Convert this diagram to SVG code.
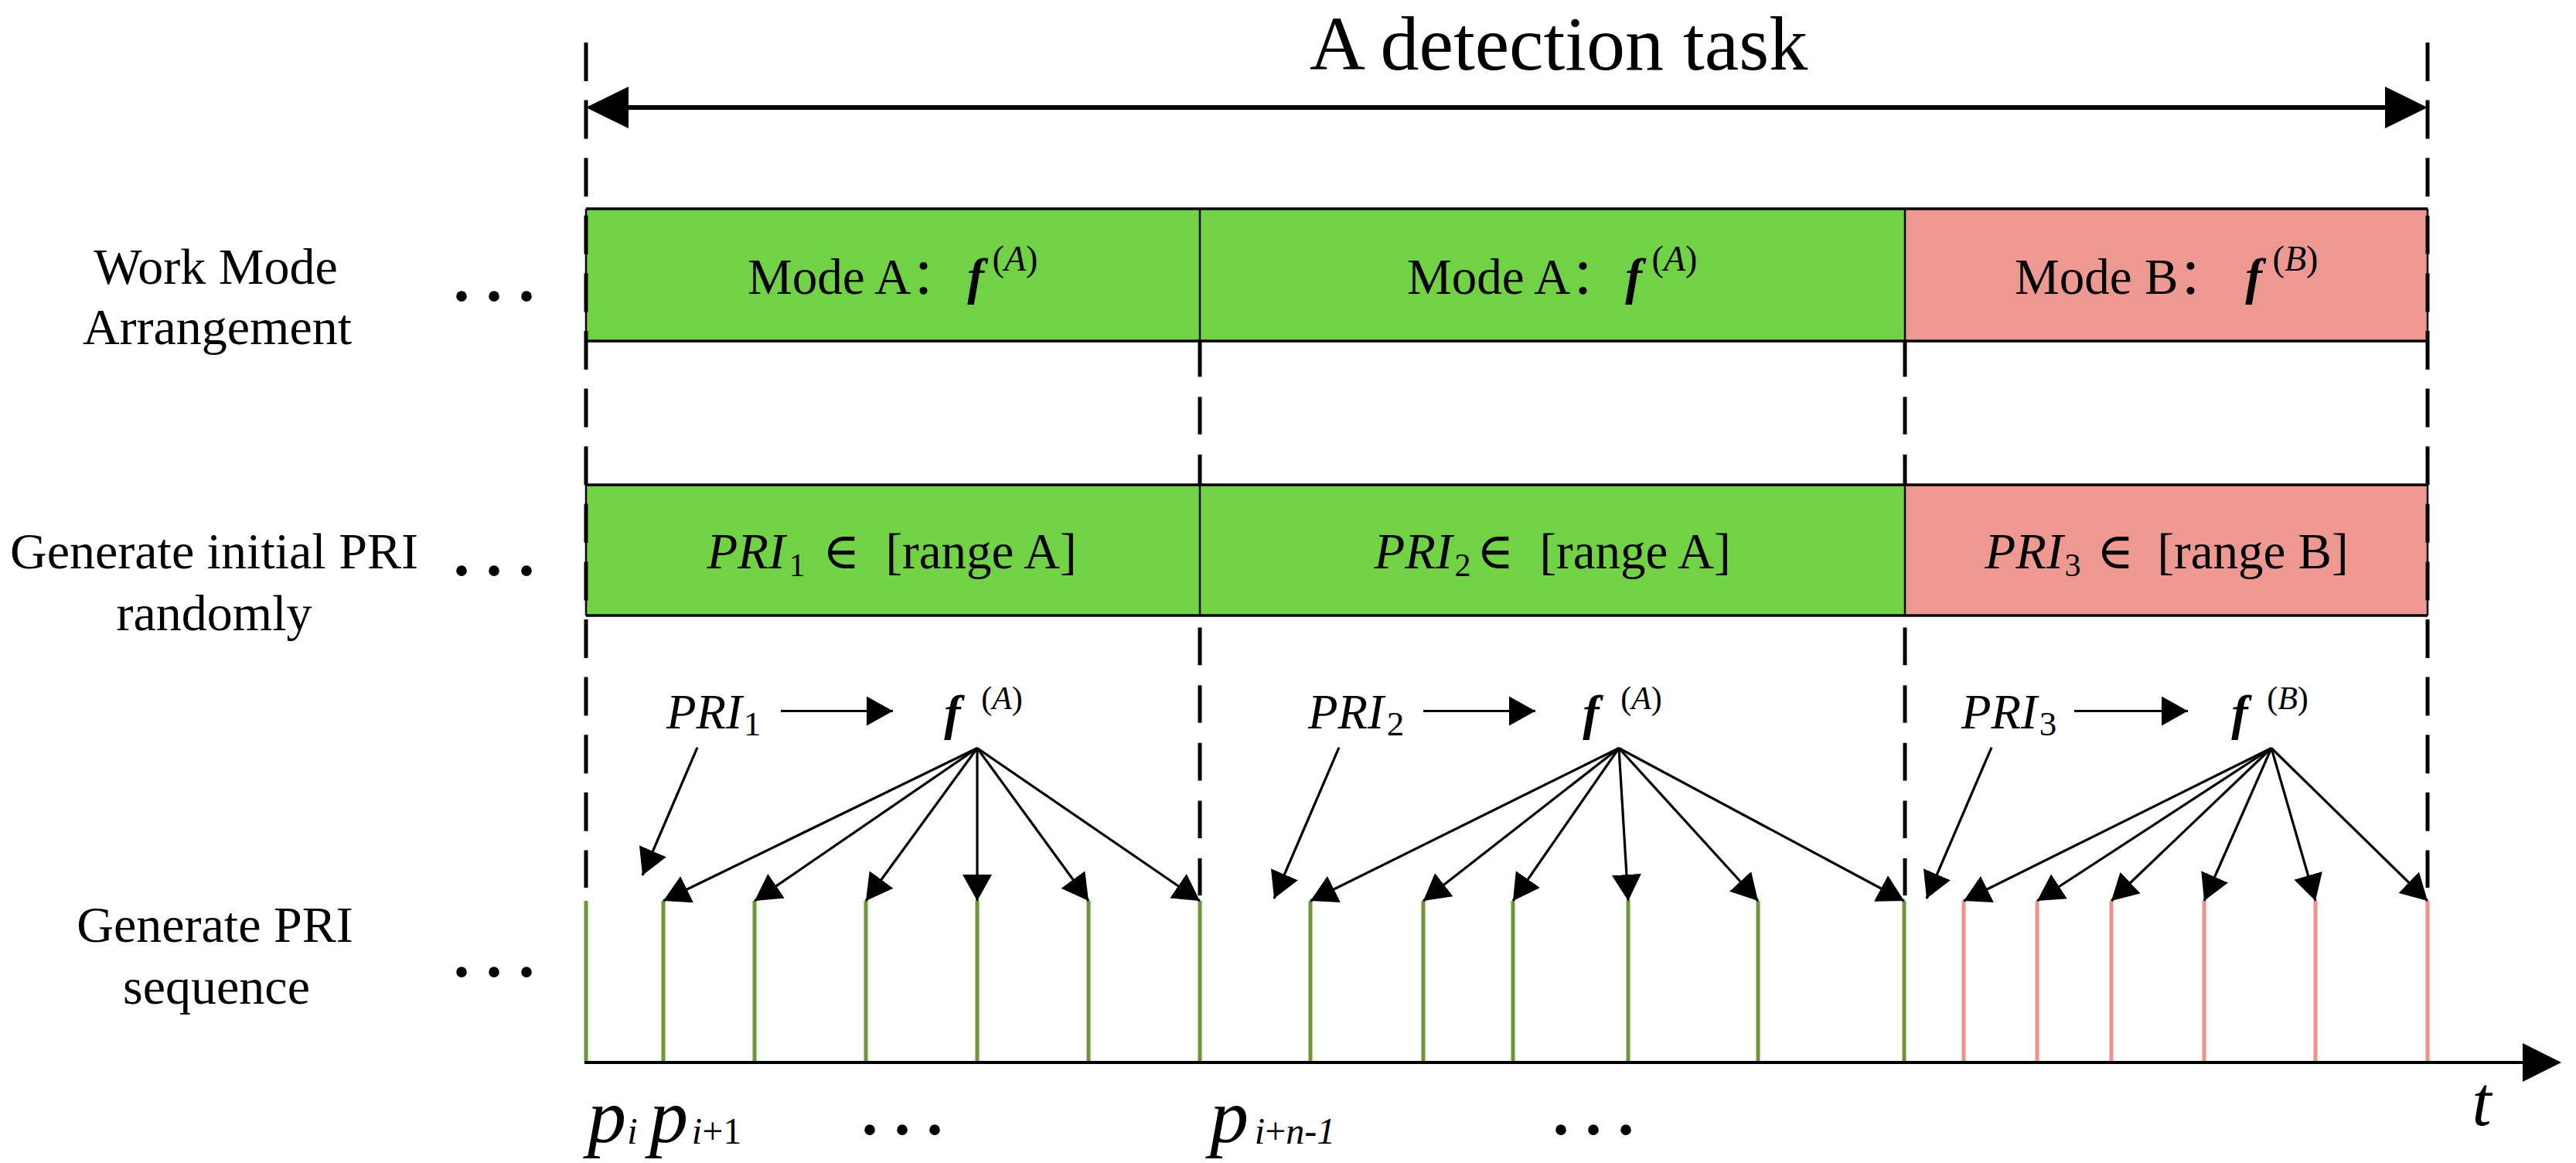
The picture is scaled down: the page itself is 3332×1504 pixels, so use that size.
<svg xmlns="http://www.w3.org/2000/svg" width="3332" height="1504" viewBox="0 0 3332 1504">
<style>
text{font-family:"Liberation Serif","DejaVu Serif","Noto Sans CJK SC",serif;fill:#000}
.lbl{font-size:66px;text-anchor:middle}
.box{font-size:65px}
.it{font-style:italic}
.fb{font-style:italic;font-weight:bold}
.mid{text-anchor:middle}
.dash{stroke:#000;stroke-width:5;fill:none;stroke-dasharray:50 24.6}
.mdash{stroke:#000;stroke-width:5;fill:none;stroke-dasharray:48.6 26}
.hl{stroke:#000;stroke-width:3.5}
.vl{stroke:#000;stroke-width:2.5}
.green{fill:#70D244}
.pink{fill:#ED9992}
.tg{stroke:#6B9737;stroke-width:5}
.tp{stroke:#EF928C;stroke-width:5}
.arr{stroke:#000;stroke-width:3.2;fill:none;marker-end:url(#ah)}
.dots{font-size:84px;text-anchor:middle;font-weight:bold}
</style>
<defs>
<marker id="ah" markerUnits="userSpaceOnUse" viewBox="0 0 34 38" markerWidth="34" markerHeight="38" refX="34" refY="19" orient="auto"><path d="M0,0 L34,19 L0,38 z" fill="#000"/></marker>
<marker id="big" markerUnits="userSpaceOnUse" viewBox="0 0 55 54" markerWidth="55" markerHeight="54" refX="49" refY="27" orient="auto-start-reverse"><path d="M0,0 L55,27 L0,54 z" fill="#000"/></marker>
<marker id="axh" markerUnits="userSpaceOnUse" viewBox="0 0 50 50" markerWidth="50" markerHeight="50" refX="44" refY="25" orient="auto"><path d="M0,0 L50,25 L0,50 z" fill="#000"/></marker>
</defs>

<g id="middle-dashes">
<path class="mdash" d="M1552,438.6 V1158"/>
<path class="mdash" d="M2464,438.6 V1158"/>
</g>

<g id="row1">
<rect class="green" x="758" y="270" width="794" height="171"/>
<rect class="green" x="1552" y="270" width="912" height="171"/>
<rect class="pink" x="2464" y="270" width="676" height="171"/>
<line class="hl" x1="758" y1="270" x2="3140" y2="270"/>
<line class="hl" x1="758" y1="441" x2="3140" y2="441"/>
<line class="vl" x1="758" y1="270" x2="758" y2="441"/>
<line class="vl" x1="1552" y1="270" x2="1552" y2="441"/>
<line class="vl" x1="2464" y1="270" x2="2464" y2="441"/>
<line class="vl" x1="3140" y1="270" x2="3140" y2="441"/>
<text class="box" x="967" y="380">Mode A：</text>
<text class="box fb mid" x="1262" y="380" font-size="64">f</text>
<text class="mid" x="1313" y="350" font-size="46">(<tspan class="it">A</tspan>)</text>
<text class="box" x="1820" y="380">Mode A：</text>
<text class="box fb mid" x="2113" y="380" font-size="64">f</text>
<text class="mid" x="2166" y="350" font-size="46">(<tspan class="it">A</tspan>)</text>
<text class="box" x="2606" y="380">Mode B：</text>
<text class="box fb mid" x="2915" y="380" font-size="64">f</text>
<text class="mid" x="2969" y="350" font-size="46">(<tspan class="it">B</tspan>)</text>
</g>

<g id="row2">
<rect class="green" x="758" y="627" width="794" height="169"/>
<rect class="green" x="1552" y="627" width="912" height="169"/>
<rect class="pink" x="2464" y="627" width="676" height="169"/>
<line class="hl" x1="758" y1="627" x2="3140" y2="627"/>
<line class="hl" x1="758" y1="796" x2="3140" y2="796"/>
<line class="vl" x1="758" y1="627" x2="758" y2="796"/>
<line class="vl" x1="1552" y1="627" x2="1552" y2="796"/>
<line class="vl" x1="2464" y1="627" x2="2464" y2="796"/>
<line class="vl" x1="3140" y1="627" x2="3140" y2="796"/>
<text class="box it mid" x="965" y="735">PRI</text>
<text class="mid" x="1031" y="745" font-size="42">1</text>
<text class="box mid" x="1088" y="735">∈</text>
<text class="box mid" x="1269" y="735">[range A]</text>
<text class="box it mid" x="1828" y="735">PRI</text>
<text class="mid" x="1892" y="745" font-size="42">2</text>
<text class="box mid" x="1934" y="735">∈</text>
<text class="box mid" x="2115" y="735">[range A]</text>
<text class="box it mid" x="2618" y="735">PRI</text>
<text class="mid" x="2681" y="745" font-size="42">3</text>
<text class="box mid" x="2736" y="735">∈</text>
<text class="box mid" x="2914" y="735">[range B]</text>
</g>

<g id="task-bounds">
<path class="dash" d="M758,55 V1148"/>
<path class="dash" d="M3140,55 V1148"/>
<line x1="764" y1="139" x2="3134" y2="139" stroke="#000" stroke-width="6" marker-start="url(#big)" marker-end="url(#big)"/>
<text x="2016" y="90" font-size="100" text-anchor="middle">A detection task</text>
</g>

<g id="row-labels">
<text class="lbl" x="279" y="367">Work Mode</text>
<text class="lbl" x="281" y="445">Arrangement</text>
<text class="lbl" x="277" y="735">Generate initial PRI</text>
<text class="lbl" x="277" y="815">randomly</text>
<text class="lbl" x="278" y="1218">Generate PRI</text>
<text class="lbl" x="280" y="1298">sequence</text>
<text class="dots" x="639" y="389">. . .</text>
<text class="dots" x="639" y="744">. . .</text>
<text class="dots" x="639" y="1263">. . .</text>
</g>

<g id="pri-sequence">
<line class="tg" x1="758" y1="1165" x2="758" y2="1374"/>
<line class="tg" x1="858" y1="1165" x2="858" y2="1374"/>
<line class="tg" x1="976" y1="1165" x2="976" y2="1374"/>
<line class="tg" x1="1120" y1="1165" x2="1120" y2="1374"/>
<line class="tg" x1="1264" y1="1165" x2="1264" y2="1374"/>
<line class="tg" x1="1408" y1="1165" x2="1408" y2="1374"/>
<line class="tg" x1="1552" y1="1165" x2="1552" y2="1374"/>
<line class="tg" x1="1695" y1="1165" x2="1695" y2="1374"/>
<line class="tg" x1="1841" y1="1165" x2="1841" y2="1374"/>
<line class="tg" x1="1957" y1="1165" x2="1957" y2="1374"/>
<line class="tg" x1="2106" y1="1165" x2="2106" y2="1374"/>
<line class="tg" x1="2274" y1="1165" x2="2274" y2="1374"/>
<line class="tg" x1="2463" y1="1165" x2="2463" y2="1374"/>
<line class="tp" x1="2540" y1="1165" x2="2540" y2="1374"/>
<line class="tp" x1="2635" y1="1165" x2="2635" y2="1374"/>
<line class="tp" x1="2731" y1="1165" x2="2731" y2="1374"/>
<line class="tp" x1="2851" y1="1165" x2="2851" y2="1374"/>
<line class="tp" x1="2995" y1="1165" x2="2995" y2="1374"/>
<line class="tp" x1="3140" y1="1165" x2="3140" y2="1374"/>
<line x1="756" y1="1374" x2="3307" y2="1374" stroke="#000" stroke-width="4" marker-end="url(#axh)"/>
<text class="it mid" x="3210" y="1455" font-size="90">t</text>
<text class="it mid" x="785" y="1477" font-size="100">p</text>
<text class="it mid" x="818" y="1479" font-size="48">i</text>
<text class="it mid" x="865" y="1477" font-size="100">p</text>
<text class="mid" x="927" y="1479" font-size="48"><tspan class="it">i</tspan>+1</text>
<text class="dots" x="1167" y="1467" font-size="82">. . .</text>
<text class="it mid" x="1590" y="1477" font-size="100">p</text>
<text class="mid" x="1675" y="1479" font-size="48"><tspan class="it">i</tspan>+<tspan class="it">n-1</tspan></text>
<text class="dots" x="2061" y="1467" font-size="82">. . .</text>
</g>

<g id="labels-lower">
<text class="it mid" x="911" y="942" font-size="63">PRI</text>
<text class="mid" x="973" y="951" font-size="45">1</text>
<text class="fb mid" x="1232" y="943" font-size="64">f</text>
<text class="mid" x="1296" y="917" font-size="42">(<tspan class="it">A</tspan>)</text>
<text class="it mid" x="1741" y="942" font-size="63">PRI</text>
<text class="mid" x="1805" y="951" font-size="45">2</text>
<text class="fb mid" x="2058" y="943" font-size="64">f</text>
<text class="mid" x="2123" y="917" font-size="42">(<tspan class="it">A</tspan>)</text>
<text class="it mid" x="2586" y="942" font-size="63">PRI</text>
<text class="mid" x="2649" y="951" font-size="45">3</text>
<text class="fb mid" x="2897" y="943" font-size="64">f</text>
<text class="mid" x="2959" y="917" font-size="42">(<tspan class="it">B</tspan>)</text>
</g>

<g id="connectors">
<line class="arr" x1="1010" y1="919.5" x2="1155" y2="919.5"/>
<line class="arr" x1="1841" y1="919.5" x2="1986" y2="919.5"/>
<line class="arr" x1="2683" y1="919.5" x2="2830" y2="919.5"/>
<line class="arr" x1="902" y1="966.6" x2="831" y2="1132"/>
<line class="arr" x1="1732" y1="966.6" x2="1648" y2="1162"/>
<line class="arr" x1="2576" y1="966.6" x2="2492" y2="1162"/>
<line class="arr" x1="1264" y1="967.5" x2="858" y2="1165"/>
<line class="arr" x1="1264" y1="967.5" x2="976" y2="1165"/>
<line class="arr" x1="1264" y1="967.5" x2="1120" y2="1165"/>
<line class="arr" x1="1264" y1="967.5" x2="1264" y2="1165"/>
<line class="arr" x1="1264" y1="967.5" x2="1408" y2="1165"/>
<line class="arr" x1="1264" y1="967.5" x2="1552" y2="1165"/>
<line class="arr" x1="2094" y1="967.5" x2="1695" y2="1165"/>
<line class="arr" x1="2094" y1="967.5" x2="1841" y2="1165"/>
<line class="arr" x1="2094" y1="967.5" x2="1957" y2="1165"/>
<line class="arr" x1="2094" y1="967.5" x2="2106" y2="1165"/>
<line class="arr" x1="2094" y1="967.5" x2="2274" y2="1165"/>
<line class="arr" x1="2094" y1="967.5" x2="2463" y2="1165"/>
<line class="arr" x1="2938" y1="967.5" x2="2540" y2="1165"/>
<line class="arr" x1="2938" y1="967.5" x2="2635" y2="1165"/>
<line class="arr" x1="2938" y1="967.5" x2="2731" y2="1165"/>
<line class="arr" x1="2938" y1="967.5" x2="2851" y2="1165"/>
<line class="arr" x1="2938" y1="967.5" x2="2995" y2="1165"/>
<line class="arr" x1="2938" y1="967.5" x2="3140" y2="1165"/>
</g>
</svg>
